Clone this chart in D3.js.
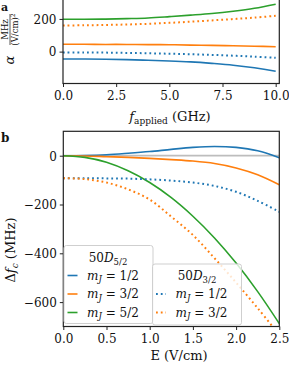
<!DOCTYPE html>
<html><head><meta charset="utf-8">
<script src="https://cdn.jsdelivr.net/npm/d3@7"></script>
<style>
html,body{margin:0;padding:0;background:#fff;}
svg{display:block;font-family:"DejaVu Serif",serif;}
</style></head><body>
<svg id="c" width="289" height="366"></svg>
<script>
// ---------- data: panel a (polarizability vs applied frequency) ----------
const fApplied = [0,1,2,3,4,5,6,7,8,9,10];
const alphaD52m12 = [-45,-45,-47,-49,-53,-57,-63,-72,-83,-99,-120];
const alphaD52m32 = [45,45,44,44,43,42,40,38,36,33,30];
const alphaD52m52 = [198,198,199,202,206,214,223,233,247,265,290];
const alphaD32m12 = [-5,-5,-6,-8,-10,-13,-16,-20,-25,-31,-38];
const alphaD32m32 = [160,161,163,166,170,176,183,191,199,208,219];
const xTicksA = [0,2.5,5,7.5,10];
const yTicksA = [0,200];

// ---------- data: panel b (shift vs field) ----------
const eField = [0,0.25,0.5,0.75,1.0,1.25,1.5,1.75,2.0,2.25,2.5];
const shiftD52m12 = [0,1,4,10,17,26,34,38,34,20,-8];
const shiftD52m32 = [0,-1,-4,-7,-11,-16,-22,-32,-50,-78,-119];
const shiftD52m52 = [0,-7,-27,-62,-110,-172,-248,-337,-440,-557,-688];
const shiftD32m12 = [-92,-92,-93,-94,-97,-102,-110,-124,-148,-185,-230];
const shiftD32m32 = [-92,-96,-110,-138,-180,-250,-325,-420,-520,-625,-735];
const zeroLine = [0,0,0,0,0,0,0,0,0,0,0];
const xTicksB = [0,0.5,1,1.5,2,2.5];
const yTicksB = [0,-200,-400,-600];

const legendD52 = ["1/2","3/2","5/2"];
const legendD32 = ["1/2","3/2"];

const C = {blue:"#1f77b4", orange:"#ff7f0e", green:"#2ca02c", gray:"#bdbdbd"};
const DOT = "1.8,3";

const svg = d3.select("#c");
svg.append("rect").attr("width",289).attr("height",366).attr("fill","#fff");

function axes(g, x, y, xt, yt, xfmt, yfmt){
  const ax = g.append("g").attr("transform",`translate(0,${y.range()[0]})`)
    .call(d3.axisBottom(x).tickValues(xt).tickSize(3.5).tickPadding(4).tickFormat(xfmt));
  const ay = g.append("g").attr("transform",`translate(${x.range()[0]},0)`)
    .call(d3.axisLeft(y).tickValues(yt).tickSize(3.5).tickPadding(3).tickFormat(yfmt));
  [ax,ay].forEach(a=>{
    a.select(".domain").remove();
    a.selectAll(".tick line").attr("stroke","#222").attr("stroke-width",1);
    a.selectAll(".tick text").attr("font-family","DejaVu Serif").attr("font-size",12).attr("fill","#111");
  });
  ay.selectAll(".tick text").attr("dy","0.36em");
  const [x0,x1] = x.range(), [y0,y1] = y.range();
  g.append("rect").attr("x",x0).attr("y",y1).attr("width",x1-x0).attr("height",y0-y1)
    .attr("fill","none").attr("stroke","#222").attr("stroke-width",1.2);
}

function drawLine(g, x, y, xs, ys, color, dotted){
  const line = d3.line().x((d,i)=>x(xs[i])).y(d=>y(d)).curve(d3.curveCatmullRom.alpha(0.5));
  const p = g.append("path").attr("d", line(ys)).attr("fill","none")
    .attr("stroke", color).attr("stroke-width", dotted?2:1.6);
  if(dotted) p.attr("stroke-dasharray", DOT);
  return p;
}

// ---------- panel a ----------
const xA = d3.scaleLinear().domain([0,10.17]).range([63,279.3]);
const yA = d3.scaleLinear().domain([-195,320]).range([83.5,-0.7]);
const gA = svg.append("g");
svg.append("clipPath").attr("id","clipA").append("rect")
  .attr("x",63).attr("y",-1).attr("width",216.3).attr("height",84.5);
const lA = gA.append("g").attr("clip-path","url(#clipA)");
drawLine(lA,xA,yA,fApplied,alphaD52m12,C.blue,false);
drawLine(lA,xA,yA,fApplied,alphaD52m32,C.orange,false);
drawLine(lA,xA,yA,fApplied,alphaD52m52,C.green,false);
drawLine(lA,xA,yA,fApplied,alphaD32m12,C.blue,true);
drawLine(lA,xA,yA,fApplied,alphaD32m32,C.orange,true);
axes(gA,xA,yA,xTicksA,yTicksA,d3.format(".1f"),d3.format("d"));

// x label a
const xlA = svg.append("text").attr("x",170).attr("y",121).attr("text-anchor","middle")
  .attr("font-size",13).attr("fill","#111");
xlA.append("tspan").attr("font-style","italic").text("f");
xlA.append("tspan").attr("font-size",9).attr("dy",3).text("applied");
xlA.append("tspan").attr("dy",-3).text(" (GHz)");

// y label a (rotated)
const ylA = svg.append("g").attr("transform","rotate(-90)").attr("fill","#111");
ylA.append("text").attr("x",-60).attr("y",13.5).attr("text-anchor","middle")
  .attr("font-size",13).attr("font-style","italic").text("α");
ylA.append("text").attr("x",-29.5).attr("y",7.8).attr("text-anchor","middle")
  .attr("font-size",8.5).text("MHz");
ylA.append("line").attr("x1",-45).attr("x2",-14).attr("y1",10).attr("y2",10)
  .attr("stroke","#111").attr("stroke-width",0.7);
const den = ylA.append("text").attr("x",-29.5).attr("y",18.2).attr("text-anchor","middle").attr("font-size",8.5);
den.append("tspan").text("(V/cm)");
den.append("tspan").attr("font-size",6).attr("dy",-3).text("2");

svg.append("text").attr("x",1).attr("y",11).attr("font-size",11).attr("font-weight","bold").attr("fill","#111").text("a");

// ---------- panel b ----------
const xB = d3.scaleLinear().domain([0,2.5]).range([63.3,279.3]);
const yB = d3.scaleLinear().domain([-700,100]).range([326.5,131.3]);
const gB = svg.append("g");
svg.append("clipPath").attr("id","clipB").append("rect")
  .attr("x",63.3).attr("y",131.3).attr("width",216).attr("height",195.2);
const lB = gB.append("g").attr("clip-path","url(#clipB)");
drawLine(lB,xB,yB,eField,zeroLine,C.gray,false).attr("stroke-width",1.8);
drawLine(lB,xB,yB,eField,shiftD52m12,C.blue,false);
drawLine(lB,xB,yB,eField,shiftD52m32,C.orange,false);
drawLine(lB,xB,yB,eField,shiftD52m52,C.green,false);
drawLine(lB,xB,yB,eField,shiftD32m12,C.blue,true);
drawLine(lB,xB,yB,eField,shiftD32m32,C.orange,true);

// legends
function legend(x, y, w, h, title, items, colors, dotted, cx){
  const g = svg.append("g");
  g.append("rect").attr("x",x).attr("y",y).attr("width",w).attr("height",h).attr("rx",2.5)
    .attr("fill","#fff").attr("fill-opacity",0.8).attr("stroke","#cfcfcf").attr("stroke-width",1);
  const t = g.append("text").attr("x",cx).attr("y",y+16).attr("text-anchor","middle")
    .attr("font-size",12).attr("fill","#111");
  t.append("tspan").text("50");
  t.append("tspan").attr("font-style","italic").text("D");
  t.append("tspan").attr("font-size",8.5).attr("dy",3).text(title);
  items.forEach((it,i)=>{
    const yy = y + 34 + i*18.5;
    const ln = g.append("line").attr("x1",x+3.5).attr("x2",x+13.5).attr("y1",yy-4).attr("y2",yy-4)
      .attr("stroke",colors[i]).attr("stroke-width",dotted?2:1.6);
    if(dotted) ln.attr("stroke-dasharray",DOT);
    const tx = g.append("text").attr("x",x+23).attr("y",yy).attr("font-size",12).attr("fill","#111");
    tx.append("tspan").attr("font-style","italic").text("m");
    tx.append("tspan").attr("font-style","italic").attr("font-size",8.5).attr("dy",2.5).text("J");
    tx.append("tspan").attr("dy",-2.5).text(" = " + it);
  });
}
legend(64,245.5,89,78,"5/2",legendD52,[C.blue,C.orange,C.green],false,108);
legend(152.5,264,89,61,"3/2",legendD32,[C.blue,C.orange],true,197);

axes(gB,xB,yB,xTicksB,yTicksB,d3.format(".1f"),d3.format("d"));

svg.append("text").attr("x",179).attr("y",360).attr("text-anchor","middle")
  .attr("font-size",13).attr("fill","#111").text("E (V/cm)");

const ylB = svg.append("text").attr("transform","translate(15,250) rotate(-90)")
  .attr("text-anchor","middle").attr("font-size",13).attr("fill","#111");
ylB.append("tspan").text("Δ");
ylB.append("tspan").attr("font-style","italic").text("f");
ylB.append("tspan").attr("font-style","italic").attr("font-size",9).attr("dy",3).text("c");
ylB.append("tspan").attr("dy",-3).text(" (MHz)");

svg.append("text").attr("x",1).attr("y",142).attr("font-size",12).attr("font-weight","bold").attr("fill","#111").text("b");
</script>
</body></html>
